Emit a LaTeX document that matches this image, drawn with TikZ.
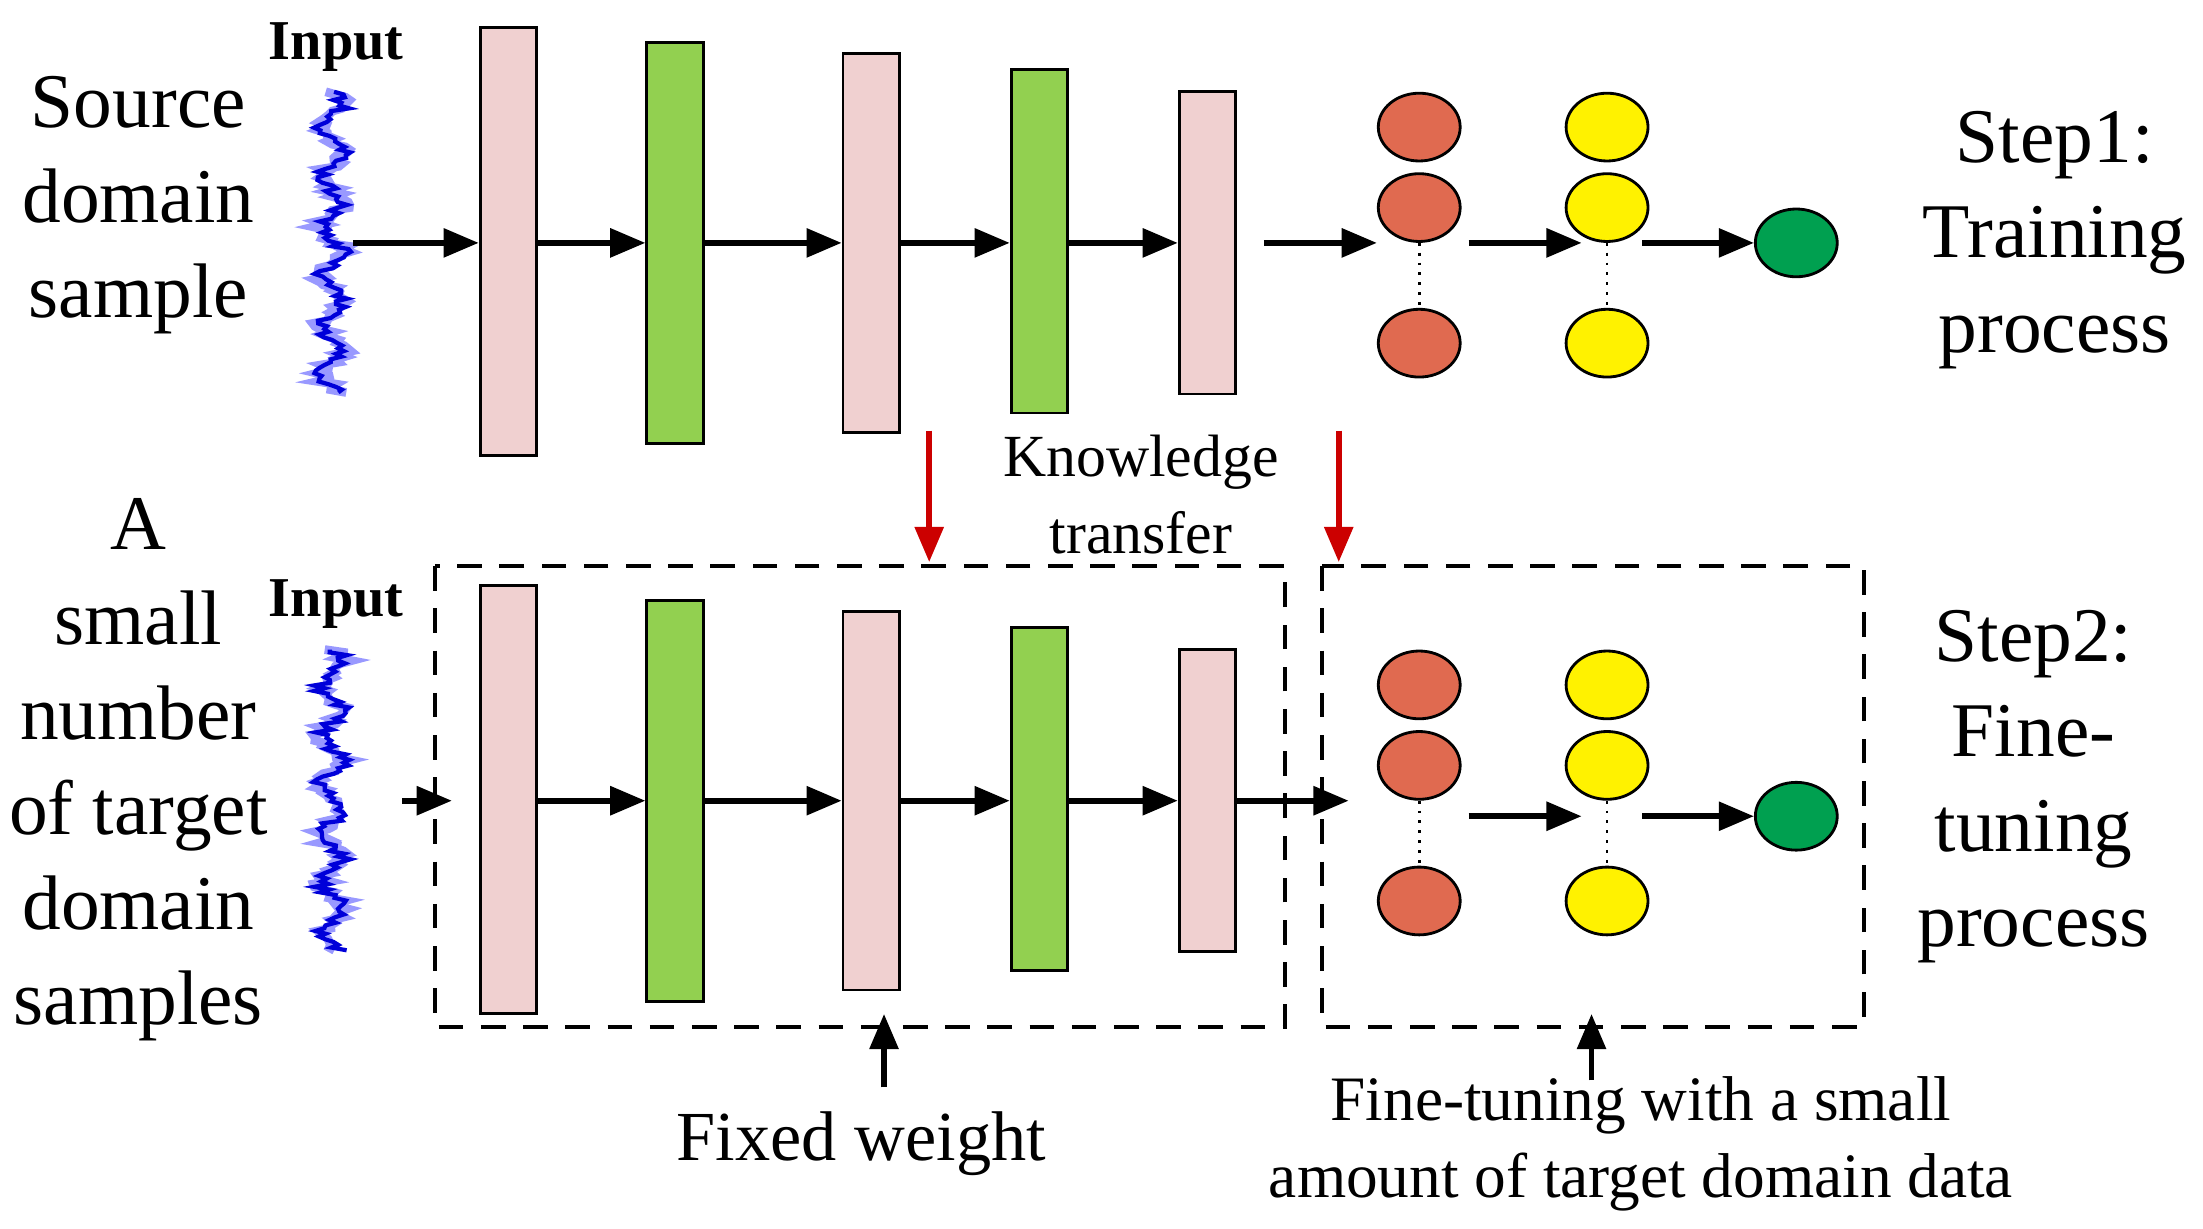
\documentclass[tikz,border=0pt]{standalone}
\usepackage{fontspec}
\setmainfont{Liberation Serif}
\usetikzlibrary{arrows.meta}
\usetikzlibrary{shapes.geometric}
\usetikzlibrary{positioning}

\definecolor{layerpink}{HTML}{F0D0D0}
\definecolor{layergreen}{HTML}{92D050}
\definecolor{nodered}{HTML}{E06A50}
\definecolor{nodegreen}{HTML}{00A050}

\tikzset{
  pinkl/.style={draw, thick, fill=layerpink, minimum width={40*0.01412cm}, inner sep=0pt},
  greenl/.style={draw, thick, fill=layergreen, minimum width={40*0.01412cm}, inner sep=0pt},
  neuron/.style={ellipse, draw, thick, minimum width={58*0.01412cm}, minimum height={48*0.01412cm}},
  flow/.style={-{Triangle[length=10pt,width=8pt]}, line width=1.6pt},
  big/.style={font=\fontsize{22}{27}\selectfont, align=center},
  box/.style={draw, dashed, line width=1.2pt, dash pattern=on 7pt off 5pt},
}

\begin{document}
\begin{tikzpicture}[x=0.01412cm, y=-0.01412cm]
  \useasboundingbox (0,0) rectangle (1560,870);
  \pgfmathsetseed{7}

  % two rows: top (training) and bottom (fine-tuning)
  \foreach \r/\dy in {a/0, b/395} {
    \node[pinkl, minimum height={303*0.01412cm}] (\r1) at (360,171+\dy) {};
    \node[greenl, minimum height={284*0.01412cm}] (\r2) at (478,172+\dy) {};
    \node[pinkl, minimum height={268*0.01412cm}] (\r3) at (617,172+\dy) {};
    \node[greenl, minimum height={243*0.01412cm}] (\r4) at (736,171+\dy) {};
    \node[pinkl, minimum height={214*0.01412cm}] (\r5) at (855,172+\dy) {};
    \node[neuron, fill=nodered] (\r o1) at (1005,90+\dy) {};
    \node[neuron, fill=nodered] (\r o2) at (1005,147+\dy) {};
    \node[neuron, fill=nodered] (\r o3) at (1005,243+\dy) {};
    \node[neuron, fill=yellow] (\r y1) at (1138,90+\dy) {};
    \node[neuron, fill=yellow] (\r y2) at (1138,147+\dy) {};
    \node[neuron, fill=yellow] (\r y3) at (1138,243+\dy) {};
    \draw[dotted, thick] (\r o2) -- (\r o3);
    \draw[dotted, thick] (\r y2) -- (\r y3);
    % input signal
    \draw[blue!40, line width=2.5pt] plot[domain=0:1, samples=110]
      ({235+8*sin(\x*2200)+12*rnd-6}, {65+\dy+213*\x});
    \draw[blue!85!black, line width=1.2pt] plot[domain=0:1, samples=110]
      ({235+8*sin(\x*2200)+12*rnd-6}, {65+\dy+213*\x});
    \node[font=\fontsize{16}{18}\bfseries\selectfont] (\r in) at (238,33+\dy) {Input};
    \coordinate (\r c1) at (\r1.west |- 0,172+\dy);
    \draw[flow] (\r1.east |- \r c1) -- (\r2.west |- \r c1);
    \draw[flow] (\r2.east |- \r c1) -- (\r3.west |- \r c1);
    \draw[flow] (\r3.east |- \r c1) -- (\r4.west |- \r c1);
    \draw[flow] (\r4.east |- \r c1) -- (\r5.west |- \r c1);
  }
  \node[neuron, fill=nodegreen] (ag) at (1272,172) {};
  \node[neuron, fill=nodegreen] (bg) at (1272,578) {};

  % top row arrows
  \coordinate (as) at (250,172);
  \coordinate (af) at (895,172);
  \coordinate (am) at (1040,172);
  \coordinate (ay) at (1163,172);
  \draw[flow] (as) -- (a1.west |- as);
  \draw[flow] (af) -- (975,172);
  \draw[flow] (am) -- (1120,172);
  \draw[flow] (ay) -- (ag);

  % bottom row arrows
  \coordinate (bs) at (285,567);
  \coordinate (bf) at (875,567);
  \coordinate (bm) at (1040,578);
  \coordinate (by) at (1163,578);
  \draw[flow] (bs) -- (320,567);
  \draw[flow] (bf) -- (955,567);
  \draw[flow] (bm) -- (1120,578);
  \draw[flow] (by) -- (bg);

  % dashed boxes
  \draw[box] (308,401) rectangle (910,727);
  \draw[box] (936,401) rectangle (1320,727);

  % knowledge transfer
  \coordinate (k1) at (658,305);
  \coordinate (k2) at (948,305);
  \draw[flow, red!80!black] (k1) -- (658,398);
  \draw[flow, red!80!black] (k2) -- (948,398);
  \node[font=\fontsize{17}{22}\selectfont, align=center] (kt) at (808,350) {Knowledge\\transfer};

  % bottom labels
  \coordinate (fw) at (626,770);
  \coordinate (ft) at (1127,765);
  \draw[flow] (fw) -- (626,718);
  \draw[flow] (ft) -- (1127,718);
  \node[font=\fontsize{20}{24}\selectfont] (fwl) at (610,810) {Fixed weight};
  \node[font=\fontsize{18}{22}\selectfont, align=center] (ftl) at (1162,810)
    {Fine-tuning with a small\\amount of target domain data};

  % side texts
  \node[big] (src) at (98,145) {Source\\domain\\sample};
  \node[big] (tgt) at (98,545) {A\\small\\number\\of target\\domain\\samples};
  \node[big] (s1) at (1455,170) {Step1:\\Training\\process};
  \node[big] (s2) at (1440,557) {Step2:\\Fine-\\tuning\\process};
\end{tikzpicture}
\end{document}
